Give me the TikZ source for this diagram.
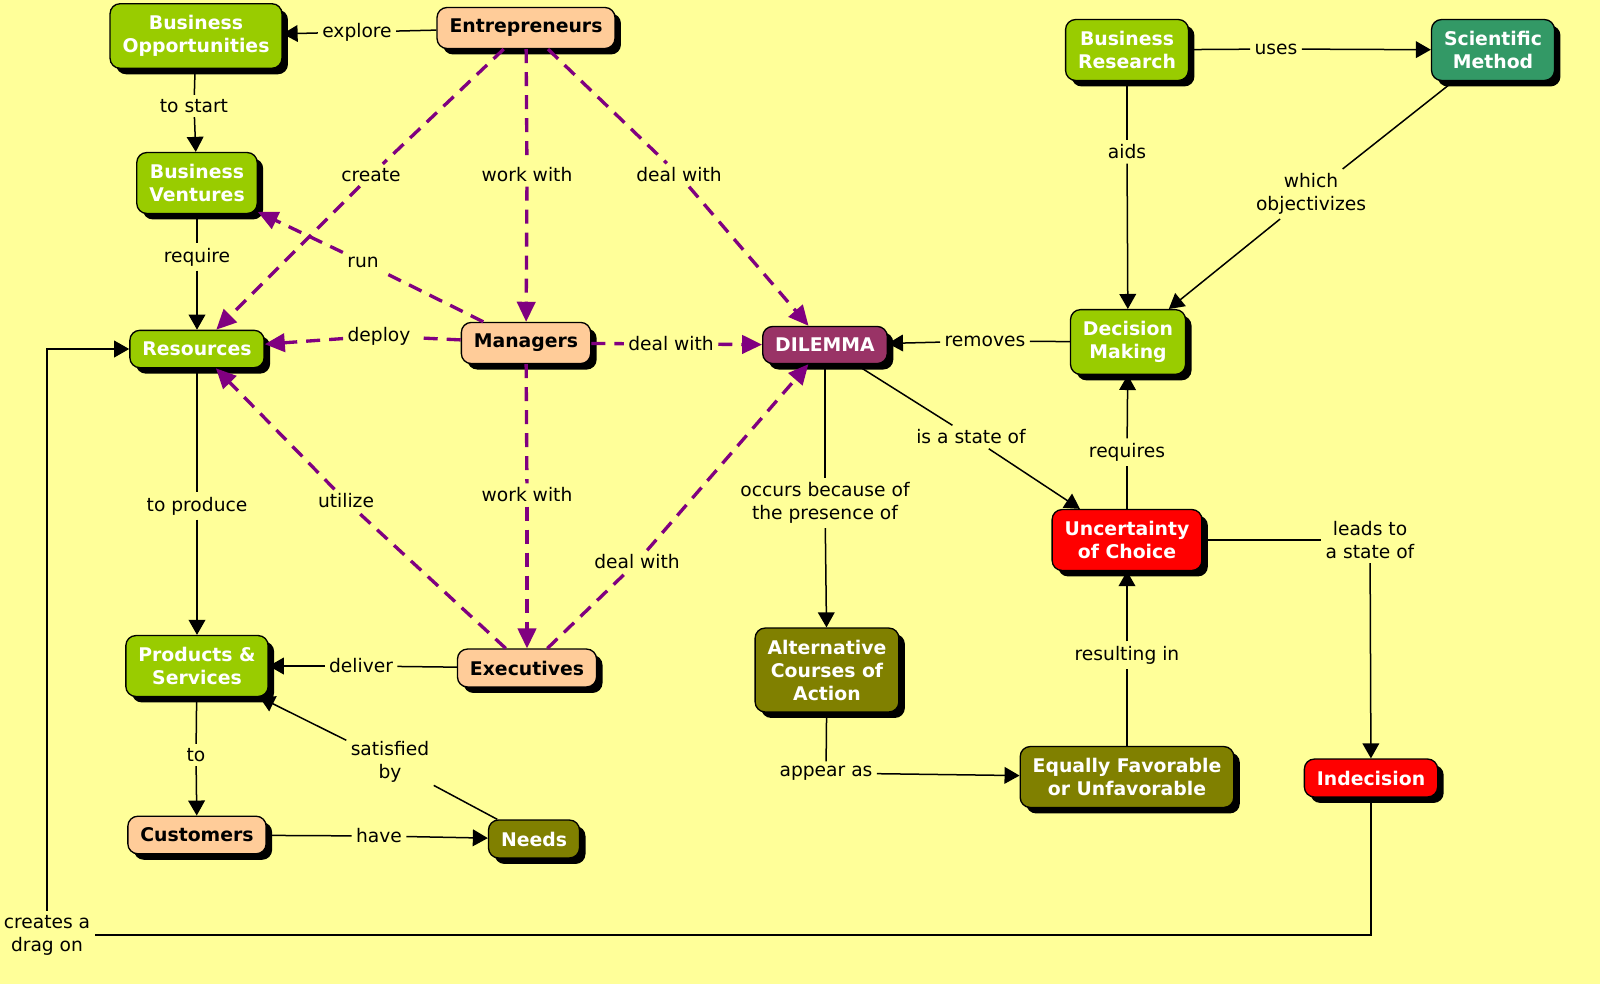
\documentclass[tikz,border=0pt]{standalone}
\usepackage{fontspec}
\setmainfont{DejaVu Sans}
\usetikzlibrary{arrows.meta,shadows}
\definecolor{paper}{RGB}{255,255,153}
\definecolor{leaf}{RGB}{153,204,0}
\definecolor{peach}{RGB}{255,204,153}
\definecolor{sea}{RGB}{51,153,102}
\definecolor{moss}{RGB}{128,128,0}
\definecolor{wine}{RGB}{153,51,102}
\definecolor{alarm}{RGB}{255,0,0}
\definecolor{dashpurple}{RGB}{128,0,128}

\begin{document}
\begin{tikzpicture}[x=0.6pt, y=-0.6pt, >={Triangle[length=9pt,width=10pt]},
    cnode/.style={draw=black, line width=0.8pt, rounded corners=6pt,
      inner xsep=7.5pt, inner ysep=7pt, align=center, text=white,
      font=\bfseries\fontsize{11.3}{13.8}\selectfont,
      drop shadow={shadow xshift=3.6pt, shadow yshift=-3.6pt, fill=black, opacity=1}},
    gbox/.style={cnode, fill=leaf},
    pbox/.style={cnode, fill=peach, text=black},
    sbox/.style={cnode, fill=sea},
    obox/.style={cnode, fill=moss},
    rbox/.style={cnode, fill=alarm},
    dbox/.style={cnode, fill=wine},
    lab/.style={fill=paper, inner sep=2.5pt, align=center,
      font=\fontsize{11.2}{13.8}\selectfont},
    sol/.style={line width=0.9pt, black},
    dsh/.style={line width=2pt, dashpurple, dash pattern=on 8.4pt off 5.4pt,
      >={Triangle[length=12pt,width=11pt]}}]
    \fill[paper] (0, 0) rectangle (1600, 984);
    \useasboundingbox (0, 0) rectangle (1600, 984);
    % concepts
    \node[gbox] (bopp) at (196, 36) {Business\\Opportunities};
    \node[pbox] (entr) at (526, 28) {Entrepreneurs};
    \node[gbox] (bven) at (197, 183) {Business\\Ventures};
    \node[gbox] (res) at (197, 349) {Resources};
    \node[pbox] (man) at (526, 343) {Managers};
    \node[dbox] (dil) at (825, 345) {DILEMMA};
    \node[gbox] (dm) at (1128, 342) {Decision\\Making};
    \node[gbox] (bres) at (1127, 50) {Business\\Research};
    \node[sbox] (sci) at (1493, 50) {Scientific\\Method};
    \node[rbox] (unc) at (1127, 540) {Uncertainty\\of Choice};
    \node[gbox] (prod) at (197, 666) {Products \&\\Services};
    \node[pbox] (exe) at (527, 668) {Executives};
    \node[obox] (alt) at (827, 670) {Alternative\\Courses of\\Action};
    \node[obox] (eq) at (1127, 777) {Equally Favorable\\or Unfavorable};
    \node[rbox] (ind) at (1371, 778) {Indecision};
    \node[pbox] (cust) at (197, 835) {Customers};
    \node[obox] (need) at (534, 839) {Needs};
    % linking phrases
    \node[lab] (l1) at (357, 32) {explore};
    \node[lab] (l2) at (194, 106) {to start};
    \node[lab] (l3) at (371, 175) {create};
    \node[lab] (l4) at (527, 175) {work with};
    \node[lab] (l5) at (679, 175) {deal with};
    \node[lab] (l6) at (363, 262) {run};
    \node[lab] (l7) at (197, 257) {require};
    \node[lab] (l8) at (379, 336) {deploy};
    \node[lab] (l9) at (671, 344) {deal with};
    \node[lab] (l10) at (985, 341) {removes};
    \node[lab] (l11) at (1127, 152) {aids};
    \node[lab] (l12) at (1276, 49) {uses};
    \node[lab] (l13) at (1311, 194) {which\\objectivizes};
    \node[lab] (l14) at (971, 437) {is a state of};
    \node[lab] (l15) at (1127, 452) {requires};
    \node[lab] (l16) at (197, 506) {to produce};
    \node[lab] (l17) at (346, 501) {utilize};
    \node[lab] (l18) at (527, 495) {work with};
    \node[lab] (l19) at (825, 503) {occurs because of\\the presence of};
    \node[lab] (l20) at (637, 562) {deal with};
    \node[lab] (l21) at (1370, 540) {leads to\\a state of};
    \node[lab] (l22) at (1127, 655) {resulting in};
    \node[lab] (l23) at (361, 666) {deliver};
    \node[lab] (l24) at (196, 755) {to};
    \node[lab] (l25) at (390, 762) {satisfied\\by};
    \node[lab] (l26) at (826, 773) {appear as};
    \node[lab] (l27) at (379, 836) {have};
    \node[lab] (l28) at (47, 935) {creates a\\drag on};
    % solid links
    \draw[sol] (entr) -- (l1);
    \draw[sol, ->] (l1) -- (bopp);
    \draw[sol] (bopp) -- (l2);
    \draw[sol, ->] (l2) -- (bven);
    \draw[sol] (bven) -- (l7);
    \draw[sol, ->] (l7) -- (res);
    \draw[sol] (res) -- (l16);
    \draw[sol, ->] (l16) -- (prod);
    \draw[sol] (prod) -- (l24);
    \draw[sol, ->] (l24) -- (cust);
    \draw[sol] (cust) -- (l27);
    \draw[sol, ->] (l27) -- (need);
    \draw[sol] (need) -- (l25);
    \draw[sol, ->] (l25) -- (prod);
    \draw[sol] (exe) -- (l23);
    \draw[sol, ->] (l23) -- (prod);
    \draw[sol] (bres) -- (l12);
    \draw[sol, ->] (l12) -- (sci);
    \draw[sol] (bres) -- (l11);
    \draw[sol, ->] (l11) -- (dm);
    \draw[sol] (sci) -- (l13);
    \draw[sol, ->] (l13) -- (dm);
    \draw[sol] (dm) -- (l10);
    \draw[sol, ->] (l10) -- (dil);
    \draw[sol] (dil) -- (l14);
    \draw[sol, ->] (l14) -- (unc);
    \draw[sol] (unc) -- (l15);
    \draw[sol, ->] (l15) -- (dm);
    \draw[sol] (dil) -- (l19);
    \draw[sol, ->] (l19) -- (alt);
    \draw[sol] (alt) -- (l26);
    \draw[sol, ->] (l26) -- (eq);
    \draw[sol] (eq) -- (l22);
    \draw[sol, ->] (l22) -- (unc);
    \draw[sol] (unc) -- (l21);
    \draw[sol, ->] (l21) -- (ind);
    \draw[sol] (ind) |- (l28);
    \draw[sol, ->] (l28) |- (res);
    % dashed links
    \draw[dsh] (entr) -- (l3);
    \draw[dsh, ->] (l3) -- (res);
    \draw[dsh] (entr) -- (l4);
    \draw[dsh, ->] (l4) -- (man);
    \draw[dsh] (entr) -- (l5);
    \draw[dsh, ->] (l5) -- (dil);
    \draw[dsh] (man) -- (l6);
    \draw[dsh, ->] (l6) -- (bven);
    \draw[dsh] (man) -- (l8);
    \draw[dsh, ->] (l8) -- (res);
    \draw[dsh] (man) -- (l9);
    \draw[dsh, ->] (l9) -- (dil);
    \draw[dsh] (man) -- (l18);
    \draw[dsh, ->] (l18) -- (exe);
    \draw[dsh] (exe) -- (l17);
    \draw[dsh, ->] (l17) -- (res);
    \draw[dsh] (exe) -- (l20);
    \draw[dsh, ->] (l20) -- (dil);
\end{tikzpicture}
\end{document}
